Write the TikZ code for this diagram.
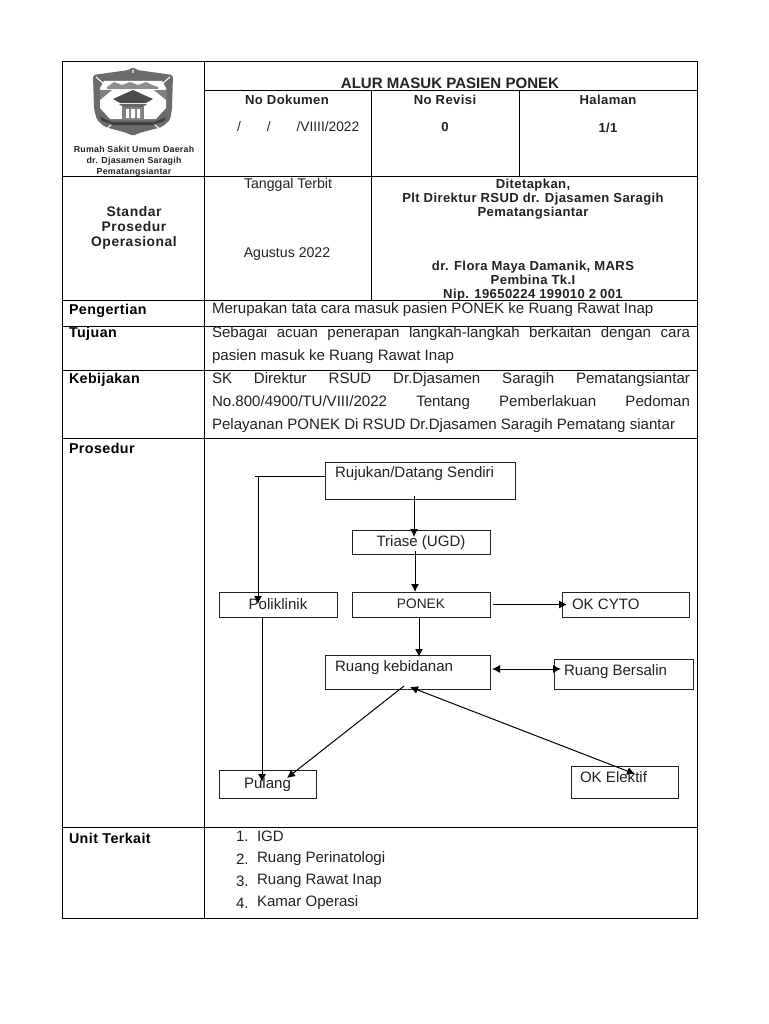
\documentclass[tikz,border=0pt]{standalone}
\usepackage{fontspec}
\setmainfont{Liberation Sans}
\usetikzlibrary{arrows.meta}
\definecolor{ink}{HTML}{222222}
\newcommand{\fs}[1]{\fontsize{#1}{#1}\selectfont}
\newcommand{\jl}[2]{\makebox[#1][s]{#2}}
\newcommand{\ls}{\addfontfeature{LetterSpace=3}}
\tikzset{
 x=0.75pt,y=-0.75pt,
 tbl/.style={line width=0.75pt,black},
 txt/.style={inner sep=0pt,outer sep=0pt,text=ink,font=\fs{11.3},yshift=-1.5pt},
 ctr/.style={txt,align=center,anchor=center},
 lft/.style={txt,anchor=west},
 bld/.style={txt,font=\fs{9.8}\bfseries\ls},
 lab/.style={lft,text=black,font=\fs{10.7}\bfseries\ls},
 flow/.style={draw=ink,line width=0.75pt,anchor=north west,inner sep=0pt,outer sep=0pt},
 arr/.style={draw=black,line width=0.75pt,-{Latex[length=6pt,width=6pt]}},
 arrb/.style={draw=black,line width=0.75pt,{Latex[length=6pt,width=6pt]}-{Latex[length=6pt,width=6pt]}},
 lin/.style={draw=black,line width=0.75pt},
}
\begin{document}
\begin{tikzpicture}
\useasboundingbox (0,0) rectangle (768,1024);
\fill[white] (0,0) rectangle (768,1024);
% table
\draw[tbl] (62,62) rectangle (697,918);
\draw[tbl] (204,62)--(204,918);
\draw[tbl] (204,91)--(697,91);
\draw[tbl] (371,91)--(371,300);
\draw[tbl] (519,91)--(519,176);
\foreach \yy in {176,300,326,370,438,827}{\draw[tbl] (62,\yy)--(697,\yy);}
% logo
\fill[black!58,rounded corners=1.5pt] (133,67)--(137,70)--(173,75)--(172,109)--(170,120)--(162,127)--(139,133)--(133,136)--(127,133)--(105,127)--(97,120)--(94,109)--(93,75)--(129,70)--cycle;
\fill[white] (104,81)--(162,81)--(166,88)--(166,108)--(156,119)--(110,119)--(100,108)--(100,88)--cycle;
\fill[black!45] (107,87)--(114,82)--(122,85)--(130,82)--(138,85)--(146,82)--(152,85)--(158,87)--(158,89)--(107,89)--cycle;
\fill[black!50] (100,90)--(112,90)--(100,100)--cycle (166,90)--(154,90)--(166,100)--cycle;
\fill[black!70] (113,99)--(133,90)--(153,99)--(146,103)--(120,103)--cycle;
\fill[black!60] (119,104)--(147,104)--(143,107)--(123,107)--cycle;
\fill[black!50] (122,107) rectangle (144,120);
\fill[white] (126,109) rectangle (129,118) (131,109) rectangle (135,118) (137,109) rectangle (140,118);
\fill[black!75] (100,117)--(112,122)--(154,122)--(166,117)--(164,121)--(152,125)--(114,125)--(102,121)--cycle;
\draw[white,line width=0.8pt] (96,77)--(104,84) (170,77)--(162,84) (111,125)--(106,129) (155,125)--(160,129) (133,70)--(133,73);
% header
\node[ctr,font=\fs{6.6}\bfseries] (hosp) at (134,159) {\ls Rumah Sakit Umum Daerah\\[1.5pt]\ls dr. Djasamen Saragih\\[1.5pt]\ls Pematangsiantar};
\node[ctr,font=\fs{11.3}\bfseries] (title) at (450,81.5) {ALUR MASUK PASIEN PONEK};
\node[ctr,bld] (nodok) at (287,96) {No Dokumen};
\node[ctr,bld] (norev) at (445,96) {No Revisi};
\node[ctr,bld] (hal) at (608,96) {Halaman};
\node[lft,font=\fs{10.3}] (dok) at (237,125) {/\hspace{19.5pt}/\hspace{19.5pt}/VIIII/2022};
\node[ctr,bld] (rev) at (445,123.5) {0};
\node[ctr,bld] (hlm) at (608,123.5) {1/1};
\node[ctr,font=\fs{10.4}\bfseries] (sop) at (134,226) {\addfontfeature{LetterSpace=4}Standar\\[0.9pt]\addfontfeature{LetterSpace=4}Prosedur\\[0.9pt]\addfontfeature{LetterSpace=4}Operasional};
\node[ctr,font=\fs{10.6}] (tt) at (288,183) {Tanggal Terbit};
\node[ctr,font=\fs{10.6}] (ag) at (287,252) {Agustus 2022};
\node[ctr,bld] (dit) at (533,195) {\ls Ditetapkan,\\[0.7pt]\ls Plt Direktur RSUD dr. Djasamen Saragih\\[0.7pt]\ls Pematangsiantar};
\node[ctr,bld] (sign) at (533,277) {\ls dr. Flora Maya Damanik, MARS\\[0.5pt]\ls Pembina Tk.I\\[0.5pt]\ls Nip. 19650224 199010 2 001};
% rows
\node[lab] (l1) at (69,309) {Pengertian};
\node[lab] (l2) at (69,332) {Tujuan};
\node[lab] (l3) at (69,378) {Kebijakan};
\node[lab] (l4) at (69,446) {Prosedur};
\node[lab] (l5) at (69,836) {Unit Terkait};
\node[lft] (t1) at (212,308) {Merupakan tata cara masuk pasien PONEK ke Ruang Rawat Inap};
\node[lft] (t2) at (212,332) {\jl{358.5pt}{Sebagai acuan penerapan langkah-langkah berkaitan dengan cara}};
\node[lft] (t3) at (212,355) {pasien masuk ke Ruang Rawat Inap};
\node[lft] (t4) at (212,378) {\jl{358.5pt}{SK Direktur RSUD Dr.Djasamen Saragih Pematangsiantar}};
\node[lft] (t5) at (212,401) {\jl{358.5pt}{No.800/4900/TU/VIII/2022 Tentang Pemberlakuan Pedoman}};
\node[lft] (t6) at (212,424) {Pelayanan PONEK Di RSUD Dr.Djasamen Saragih Pematang siantar};
% units
\foreach \nm/\yy/\tx in {1/834/IGD,2/857/Ruang Perinatologi,3/879/Ruang Rawat Inap,4/901/Kamar Operasi}{
 \node[lft] (n\nm) at (236,\yy) {\nm.};
 \node[lft] (u\nm) at (257,\yy) {\tx};
}
% flow boxes
\newcommand{\fbx}[5]{\node[flow,minimum width=#4*0.75pt,minimum height=#5*0.75pt] (#1) at (#2,#3) {};}
\fbx{ruj}{325}{462}{190}{37}
\fbx{tri}{352}{530}{138}{24}
\fbx{pol}{219}{592}{118}{25}
\fbx{pon}{352}{592}{138}{25}
\fbx{cyto}{562}{592}{127}{25}
\fbx{keb}{325}{655}{165}{34}
\fbx{ber}{554}{659}{139}{30}
\fbx{pul}{219}{770}{97}{28}
\fbx{ele}{571}{766}{107}{32}
% connector free ends
\coordinate (jn) at (255,476.5);
\coordinate (ja) at (258,477);
\coordinate (polend) at (258,604);
\coordinate (a1) at (414,496);
\coordinate (a2) at (414,537);
\coordinate (a3) at (415,551);
\coordinate (a4) at (415,592);
\coordinate (a5) at (419,617);
\coordinate (a6) at (419,657);
\coordinate (a7) at (493,604.5);
\coordinate (a8) at (567,604.5);
\coordinate (a9) at (492,669);
\coordinate (a10) at (561,669);
\coordinate (a11) at (262,617);
\coordinate (a12) at (262,782);
\coordinate (a13) at (404,686);
\coordinate (a14) at (287,778);
\coordinate (a15) at (410,687);
\coordinate (a16) at (635,774);
% connectors
\draw[lin] (ruj.west |- jn)--(jn);
\draw[arr] (ja)--(polend);
\draw[arr] (a1)--(a2);
\draw[arr] (a3)--(a4);
\draw[arr] (a5)--(a6);
\draw[arr] (a7)--(a8);
\draw[arrb] (a9)--(a10);
\draw[arr] (a11)--(a12);
\draw[arr] (a13)--(a14);
\draw[arrb] (a15)--(a16);
% flow labels
\node[lft] (lruj) at (335,472) {Rujukan/Datang Sendiri};
\node[ctr] (ltri) at (421,541) {Triase (UGD)};
\node[ctr] (lpol) at (278,602) {Poliklinik};
\node[ctr,font=\fs{10.3}] (lpon) at (421,602) {PONEK};
\node[lft] (lcyto) at (572,602) {OK CYTO};
\node[lft] (lkeb) at (335,666) {Ruang kebidanan};
\node[lft] (lber) at (564,670) {Ruang Bersalin};
\node[lft] (lpul) at (244,783) {Pulang};
\node[lft] (lele) at (580,775) {OK Elektif};
\end{tikzpicture}
\end{document}
